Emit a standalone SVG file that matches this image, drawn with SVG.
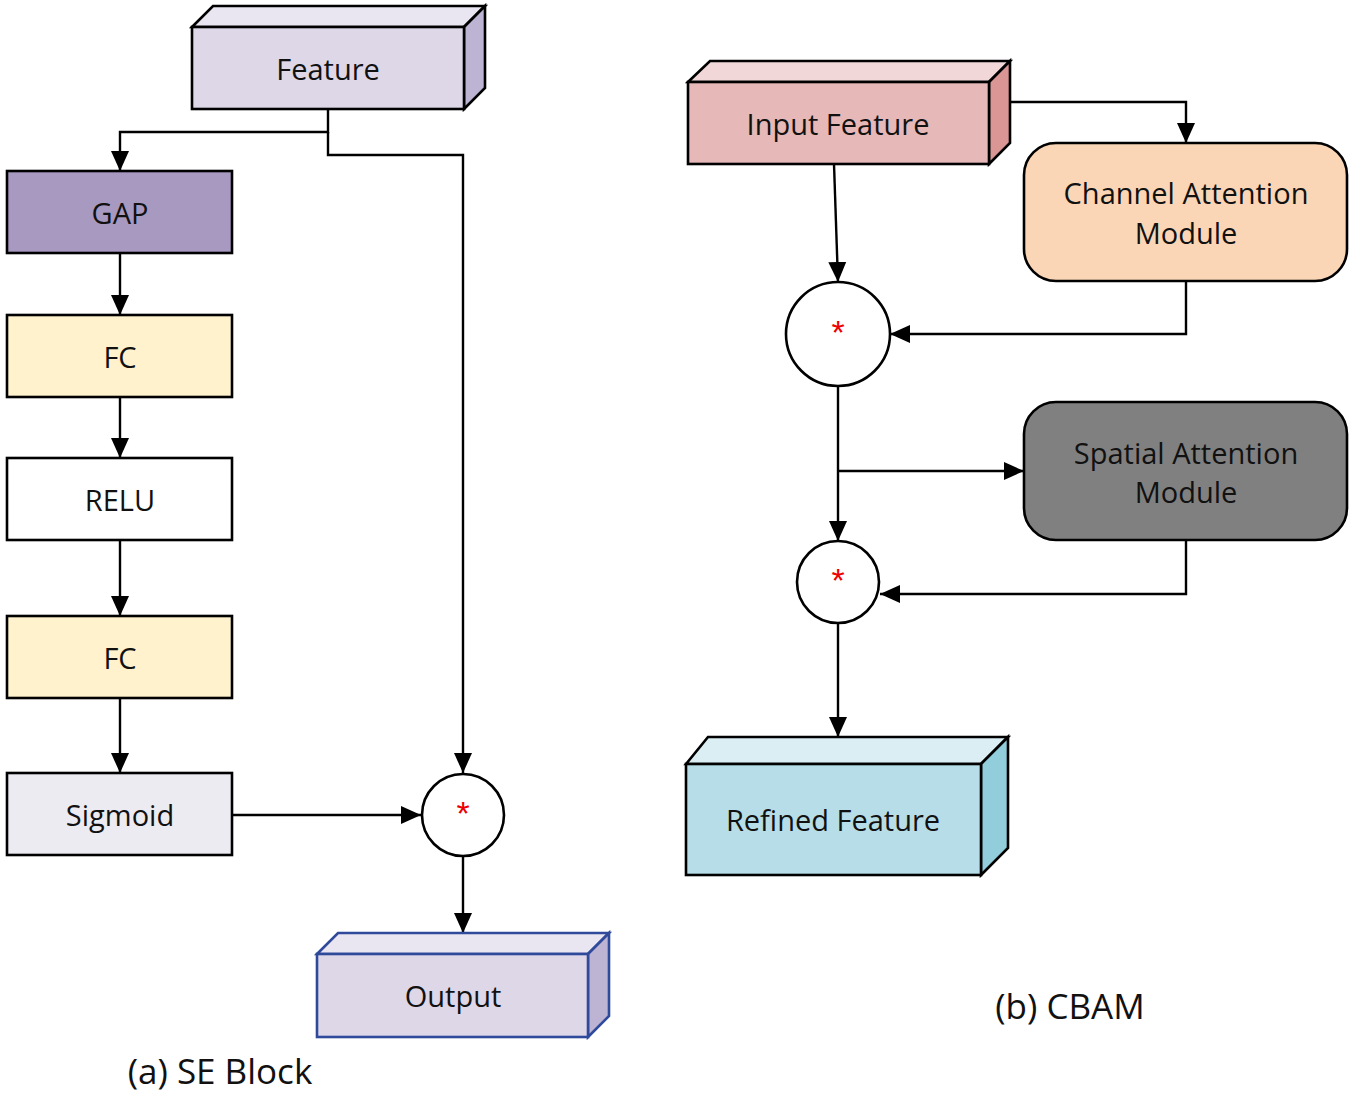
<svg xmlns="http://www.w3.org/2000/svg" width="1358" height="1111" viewBox="0 0 1358 1111">
<defs>
<marker id="ah" markerWidth="20" markerHeight="20" viewBox="0 0 20 20" refX="20" refY="10" orient="auto" markerUnits="userSpaceOnUse">
<path d="M0,1 L20,10 L0,19 z" fill="#000"/>
</marker>
<style>
.t{font-family:"Open Sans","Noto Sans","Liberation Sans",sans-serif;font-size:29px;fill:#111;text-anchor:middle;dominant-baseline:central}
.cap{font-family:"Open Sans","Noto Sans","Liberation Sans",sans-serif;font-size:35px;fill:#111;text-anchor:middle;dominant-baseline:central}
.ast{font-family:"Liberation Sans",sans-serif;font-size:34px;fill:#e00;text-anchor:middle;dominant-baseline:central}
.b{stroke:#000;stroke-width:2.6;stroke-linejoin:miter}
.c{fill:none;stroke:#000;stroke-width:2.4}
.a{marker-end:url(#ah)}
</style>
</defs>
<rect width="1358" height="1111" fill="#fff"/>
<g id="connectors">
<polyline class="c a" points="328,109 328,132 120,132 120,171"/>
<polyline class="c a" points="328,132 328,155 463,155 463,773"/>
<line class="c a" x1="120" y1="253" x2="120" y2="315"/>
<line class="c a" x1="120" y1="397" x2="120" y2="458"/>
<line class="c a" x1="120" y1="540" x2="120" y2="616"/>
<line class="c a" x1="120" y1="698" x2="120" y2="773"/>
<line class="c a" x1="232" y1="815" x2="421" y2="815"/>
<line class="c a" x1="463" y1="856" x2="463" y2="933"/>
<polyline class="c a" points="1010,102 1186,102 1186,143"/>
<line class="c a" x1="834" y1="164" x2="838" y2="282"/>
<polyline class="c a" points="1186,281 1186,334 890,334"/>
<line class="c a" x1="838" y1="386" x2="838" y2="541"/>
<line class="c a" x1="838" y1="471" x2="1024" y2="471"/>
<polyline class="c a" points="1186,540 1186,594 880,594"/>
<line class="c a" x1="838" y1="623" x2="838" y2="737"/>
</g>
<g id="feature">
<polygon class="b" points="192,27 213,6 485,6 464,27" fill="#EAE6F1"/>
<polygon class="b" points="464,27 485,6 485,88 464,109" fill="#BDB4D3"/>
<rect class="b" x="192" y="27" width="272" height="82" fill="#DDD7E8"/>
<text class="t" x="328" y="68">Feature</text>
</g>
<g id="gap">
<rect class="b" x="7" y="171" width="225" height="82" fill="#A899C0"/>
<text class="t" x="120" y="212">GAP</text>
</g>
<g id="fc1">
<rect class="b" x="7" y="315" width="225" height="82" fill="#FFF2CC"/>
<text class="t" x="120" y="356">FC</text>
</g>
<g id="relu">
<rect class="b" x="7" y="458" width="225" height="82" fill="#FFFFFF"/>
<text class="t" x="120" y="499">RELU</text>
</g>
<g id="fc2">
<rect class="b" x="7" y="616" width="225" height="82" fill="#FFF2CC"/>
<text class="t" x="120" y="657">FC</text>
</g>
<g id="sigmoid">
<rect class="b" x="7" y="773" width="225" height="82" fill="#EDEBF2"/>
<text class="t" x="120" y="814">Sigmoid</text>
</g>
<g id="mul-se">
<circle class="b" cx="463" cy="815" r="41" fill="#fff"/>
<text class="ast" x="463" y="813">*</text>
</g>
<g id="output">
<polygon points="317,954 338,933 609,933 588,954" fill="#EAE6F1" stroke="#2F4A9A" stroke-width="2.6"/>
<polygon points="588,954 609,933 609,1016 588,1037" fill="#BDB4D3" stroke="#2F4A9A" stroke-width="2.6"/>
<rect x="317" y="954" width="271" height="83" fill="#DDD7E8" stroke="#2F4A9A" stroke-width="2.6"/>
<text class="t" x="453" y="995">Output</text>
</g>
<text class="cap" x="220" y="1070">(a) SE Block</text>
<g id="input-feature">
<polygon class="b" points="688,82 710,61 1010,61 989,82" fill="#F1D7D7"/>
<polygon class="b" points="989,82 1010,61 1010,143 989,164" fill="#D99694"/>
<rect class="b" x="688" y="82" width="301" height="82" fill="#E6B8B7"/>
<text class="t" x="838" y="123">Input Feature</text>
</g>
<g id="channel-attention">
<rect class="b" x="1024" y="143" width="323" height="138" rx="32" fill="#FAD6B6"/>
<text class="t" x="1186" y="192">Channel Attention</text>
<text class="t" x="1186" y="232">Module</text>
</g>
<g id="mul-1">
<circle class="b" cx="838" cy="334" r="52" fill="#fff"/>
<text class="ast" x="838" y="332">*</text>
</g>
<g id="spatial-attention">
<rect class="b" x="1024" y="402" width="323" height="138" rx="32" fill="#808080"/>
<text class="t" x="1186" y="452">Spatial Attention</text>
<text class="t" x="1186" y="491">Module</text>
</g>
<g id="mul-2">
<circle class="b" cx="838" cy="582" r="41" fill="#fff"/>
<text class="ast" x="838" y="580">*</text>
</g>
<g id="refined-feature">
<polygon class="b" points="686,764 708,737 1008,737 981,764" fill="#DAEEF3"/>
<polygon class="b" points="981,764 1008,737 1008,848 981,875" fill="#92CDDC"/>
<rect class="b" x="686" y="764" width="295" height="111" fill="#B7DEE8"/>
<text class="t" x="833" y="819">Refined Feature</text>
</g>
<text class="cap" x="1070" y="1005">(b) CBAM</text>
</svg>
